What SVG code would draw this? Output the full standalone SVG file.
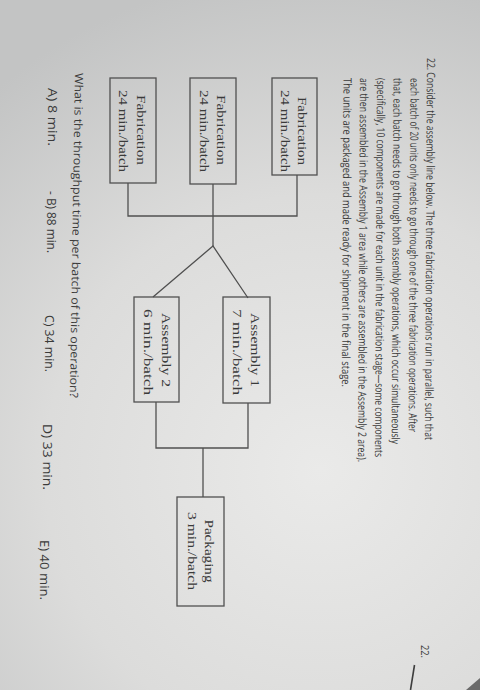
<svg xmlns="http://www.w3.org/2000/svg" width="480" height="690" viewBox="0 0 480 690">
<defs>
<radialGradient id="bg" cx="320" cy="470" r="500" gradientUnits="userSpaceOnUse">
<stop offset="0" stop-color="#eaeae9"/>
<stop offset="0.55" stop-color="#dcdcdb"/>
<stop offset="1" stop-color="#c3c4c4"/>
</radialGradient>
<style>
.t{font-family:"Open Sans","Liberation Sans",sans-serif;font-size:11.3px;fill:#3a3a3a}
.a{font-family:"Open Sans","Liberation Sans",sans-serif;font-size:12.2px;fill:#3a3a3a}
.b{font-family:"Liberation Serif","DejaVu Serif",serif;font-size:13.5px;fill:#3a3a3a;text-anchor:middle}
.box{fill:none;stroke:#505050;stroke-width:1.3}
.c{fill:none;stroke:#505050;stroke-width:1.3}
</style>
</defs>
<rect x="0" y="0" width="480" height="690" fill="url(#bg)"/>
<polygon points="466,690 480,678 480,690" fill="#6a6a6a"/>

<g id="question">
<text class="t" transform="translate(427,58) rotate(90.3)" textLength="382" lengthAdjust="spacingAndGlyphs">22. Consider the assembly line below. The three fabrication operations run in parallel, such that</text>
<text class="t" transform="translate(410.5,78) rotate(90.3)" textLength="354" lengthAdjust="spacingAndGlyphs">each batch of 20 units only needs to go through one of the three fabrication operations. After</text>
<text class="t" transform="translate(393.5,78) rotate(90.3)" textLength="366" lengthAdjust="spacingAndGlyphs">that, each batch needs to go through both assembly operations, which occur simultaneously</text>
<text class="t" transform="translate(377,78) rotate(90.3)" textLength="379" lengthAdjust="spacingAndGlyphs">(specifically, 10 components are made for each unit in the fabrication stage—some components</text>
<text class="t" transform="translate(360,78) rotate(90.3)" textLength="384" lengthAdjust="spacingAndGlyphs">are then assembled in the Assembly 1 area while others are assembled in the Assembly 2 area).</text>
<text class="t" transform="translate(343.5,78) rotate(90.3)" textLength="309" lengthAdjust="spacingAndGlyphs">The units are packaged and made ready for shipment in the final stage.</text>
<text class="t" transform="translate(75,73) rotate(90.9)" textLength="325" lengthAdjust="spacingAndGlyphs">What is the throughput time per batch of this operation?</text>
<text class="a" transform="translate(48,88) rotate(90)" textLength="58" lengthAdjust="spacingAndGlyphs">A) 8 min.</text>
<text class="a" transform="translate(46.5,191) rotate(90)" textLength="62" lengthAdjust="spacingAndGlyphs">- B) 88 min.</text>
<text class="a" transform="translate(45,315) rotate(90)" textLength="57" lengthAdjust="spacingAndGlyphs">C) 34 min.</text>
<text class="a" transform="translate(43,424) rotate(90)" textLength="66" lengthAdjust="spacingAndGlyphs">D) 33 min.</text>
<text class="a" transform="translate(40,540) rotate(90)" textLength="60" lengthAdjust="spacingAndGlyphs">E) 40 min.</text>
<text class="t" transform="translate(421,645) rotate(90)" textLength="13" lengthAdjust="spacingAndGlyphs">22.</text>
<line x1="414.5" y1="665" x2="410.5" y2="690" stroke="#3d3d3d" stroke-width="1.6"/>
</g>

<g id="connectors">
<polyline class="c" points="297,175 297,216 128,216 128,183"/>
<line class="c" x1="213" y1="184" x2="213" y2="246"/>
<polyline class="c" points="153,297 213,246 248,298"/>
<polyline class="c" points="156,402 156,448 248,448 248,403"/>
<line class="c" x1="203" y1="448" x2="203" y2="497"/>
</g>

<g id="fab1">
<rect class="box" x="272" y="78" width="45" height="97"/>
<text class="b" transform="translate(298,131) rotate(90)" textLength="68" lengthAdjust="spacingAndGlyphs">Fabrication</text>
<text class="b" transform="translate(280.5,131) rotate(90)" textLength="82" lengthAdjust="spacingAndGlyphs">24 min./batch</text>
</g>
<g id="fab2">
<rect class="box" x="190" y="78" width="46" height="106"/>
<text class="b" transform="translate(217,130) rotate(90)" textLength="70" lengthAdjust="spacingAndGlyphs">Fabrication</text>
<text class="b" transform="translate(199.5,131) rotate(90)" textLength="82" lengthAdjust="spacingAndGlyphs">24 min./batch</text>
</g>
<g id="fab3">
<rect class="box" x="110" y="78" width="46" height="105"/>
<text class="b" transform="translate(136.5,130) rotate(90)" textLength="70" lengthAdjust="spacingAndGlyphs">Fabrication</text>
<text class="b" transform="translate(119,131) rotate(90)" textLength="82" lengthAdjust="spacingAndGlyphs">24 min./batch</text>
</g>
<g id="asm1">
<rect class="box" x="223" y="297" width="47" height="106"/>
<text class="b" transform="translate(251,350) rotate(90)" textLength="74" lengthAdjust="spacingAndGlyphs">Assembly 1</text>
<text class="b" transform="translate(232.5,352) rotate(90)" textLength="86" lengthAdjust="spacingAndGlyphs">7 min./batch</text>
</g>
<g id="asm2">
<rect class="box" x="134" y="297" width="45" height="105"/>
<text class="b" transform="translate(162,350) rotate(90)" textLength="74" lengthAdjust="spacingAndGlyphs">Assembly 2</text>
<text class="b" transform="translate(143.5,352) rotate(90)" textLength="86" lengthAdjust="spacingAndGlyphs">6 min./batch</text>
</g>
<g id="pack">
<rect class="box" x="177" y="497" width="47" height="109"/>
<text class="b" transform="translate(205,551) rotate(90)" textLength="63" lengthAdjust="spacingAndGlyphs">Packaging</text>
<text class="b" transform="translate(187.5,551) rotate(90)" textLength="78" lengthAdjust="spacingAndGlyphs">3 min./batch</text>
</g>
</svg>
